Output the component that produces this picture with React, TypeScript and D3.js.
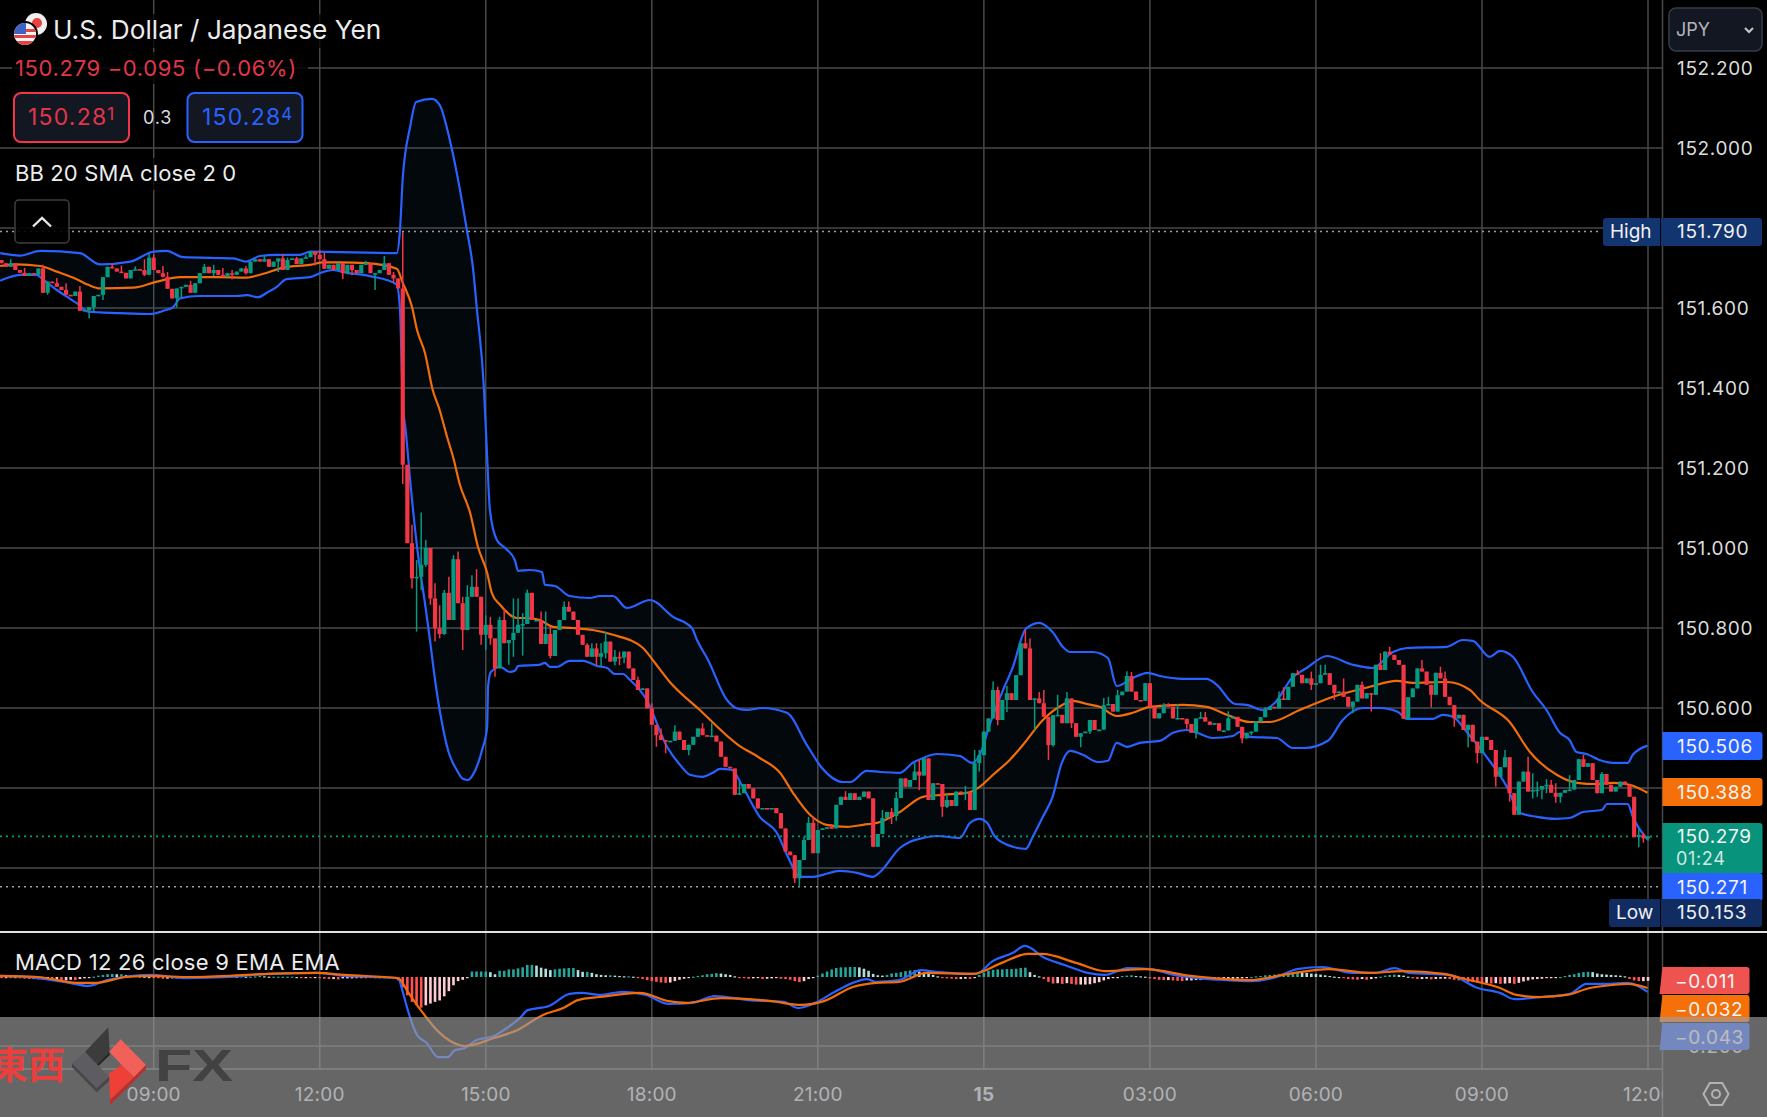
import React from "react";
import * as d3 from "d3";

const W = 1767, H = 1117;
const FONT = "Inter, Roboto, sans-serif";

// ---------- data ----------
const firstBar = -33; // bar index 0 = 09:00, bars are 5 minutes
const firstOpen = 151.72;
const closesBeforeSpike = [
  151.712,151.703,151.712,151.695,151.688,151.680,151.687,151.683,151.699,151.638,151.666,151.662,151.653,151.645,151.633,151.630,
  151.641,151.593,151.595,151.602,151.630,151.633,151.677,151.703,151.699,151.691,151.688,151.674,151.695,151.697,151.695,151.683,
  151.726,151.695,151.687,151.678,151.648,151.624,151.649,151.653,151.658,151.638,151.662,151.687,151.703,151.687,151.695,151.683,
  151.678,151.687,151.683,151.691,151.699,151.687,151.716,151.722,151.716,151.722,151.703,151.716,151.724,151.695,151.720,151.724,
  151.710,151.724,151.727,151.741,151.733,151.722,151.698,151.708,151.695,151.712,151.687,151.708,151.695,151.687,151.708,151.712,
  151.687,151.687,151.695,151.712,151.683,151.674,151.649,
];
const closesSpikeAndSlide = [
  151.208,151.012,150.924,150.928,150.958,151.000,150.874,150.799,150.785,150.888,150.820,150.972,150.862,150.795,150.878,150.903,
  150.878,150.783,150.808,150.774,150.699,150.820,150.762,150.770,150.788,150.808,150.810,150.888,150.820,150.820,150.760,150.785,
  150.730,150.795,150.820,150.853,150.841,150.820,150.783,150.758,150.728,150.749,150.728,150.737,150.766,150.716,150.728,150.726,
  150.741,150.699,150.670,150.645,150.649,150.599,150.558,150.532,150.520,150.516,150.518,150.541,150.520,150.495,150.508,150.528,
  150.549,150.532,150.530,150.531,150.516,150.478,150.453,150.449,150.383,150.387,150.410,150.399,150.374,150.349,150.350,150.349,
  150.350,150.337,150.299,150.241,150.232,150.174,150.220,150.270,150.313,150.237,150.295,150.299,150.302,150.299,150.358,150.378,
  150.370,150.387,150.370,150.378,150.391,150.374,150.253,150.285,
];
const closesRebound = [
  150.325,150.340,150.330,150.375,150.424,150.403,150.420,150.441,150.431,150.474,150.370,150.412,150.410,150.353,150.370,150.355,
  150.391,150.388,150.389,150.345,150.462,150.482,150.541,150.574,150.645,150.570,150.620,150.637,150.620,150.682,150.762,150.749,
  150.620,150.624,150.612,150.578,150.507,150.582,150.583,150.562,150.624,150.562,150.528,150.537,150.541,150.570,150.545,150.546,
  150.607,150.610,150.591,150.632,150.641,150.680,150.641,150.620,150.618,150.662,150.603,150.574,150.587,150.607,150.603,150.574,
  150.575,150.573,150.560,150.538,150.574,150.577,150.566,150.558,150.562,150.543,150.544,150.574,150.578,150.553,150.524,150.538,
  150.541,150.566,150.577,150.595,150.603,150.599,150.624,
];
const closesAfternoon = [
  150.620,150.653,150.687,150.683,150.662,150.674,150.658,150.662,150.683,150.687,150.658,150.637,150.641,150.628,150.603,150.616,
  150.658,150.624,150.637,150.633,150.708,150.695,150.741,150.733,150.720,150.708,150.573,150.627,150.649,150.699,150.691,150.658,
  150.633,150.688,150.674,150.628,150.607,150.574,150.583,150.545,150.558,150.516,150.487,150.528,150.520,150.495,150.428,150.452,
  150.477,150.387,150.333,150.416,150.441,150.391,150.395,150.396,150.405,150.408,150.388,150.378,150.388,150.395,150.396,150.420,
  150.472,150.453,150.462,150.420,150.387,150.435,150.408,150.391,150.403,150.416,150.408,150.378,150.277,150.283,150.274,150.279,
];
const closes = [...closesBeforeSpike, ...closesSpikeAndSlide, ...closesRebound, ...closesAfternoon];

// [bar, high, low]; 0 = the wick does not pass the body
const wicks: [number, number, number][] = [
  [-31,151.722,0],[-28,151.700,0],[-24,151.708,151.688],[-23,0,151.633],[-21,151.675,0],[-19,151.662,0],[-16,151.655,0],[-15,0,151.622],[-14,0,151.574],[-13,0,151.590],
  [-11,151.652,151.620],[-10,151.690,0],[-9,151.712,0],[-7,151.706,0],[-5,151.690,0],[-4,151.704,0],[-2,151.722,151.680],[-1,151.735,0],[0,151.734,0],[2,151.705,151.676],
  [3,151.690,0],[5,0,151.602],[6,0,151.625],[8,151.668,0],[11,151.710,0],[13,151.708,151.680],[15,151.700,0],[17,151.695,151.672],[19,151.700,0],[20,151.705,151.684],
  [22,151.722,0],[24,151.732,0],[27,151.718,151.690],[28,151.735,0],[29,151.726,0],[31,151.728,0],[33,151.733,0],[35,151.738,151.706],[36,151.745,0],[37,151.738,0],
  [41,0,151.672],[43,0,151.682],[46,151.718,0],[48,0,151.645],[50,151.730,0],[51,151.705,0],[52,151.690,151.664],
  [54,151.790,151.160],[56,151.058,150.899],[57,150.970,150.791],[58,151.089,150.895],[59,151.020,150.953],[60,0,150.858],[61,150.912,150.766],[62,150.857,150.774],[63,150.895,150.783],
  [64,150.928,0],[65,150.982,0],[66,150.991,0],[67,150.878,150.745],[68,150.907,0],[69,150.932,0],[70,150.947,0],[71,0,150.758],[72,150.832,150.745],[73,150.828,150.758],
  [74,0,150.678],[75,150.828,150.703],[76,150.847,0],[77,0,150.708],[78,150.874,150.728],[79,150.874,0],[80,150.837,150.731],[81,150.896,0],[84,150.841,0],[85,150.841,0],
  [86,150.803,150.724],[89,150.866,0],[90,150.866,0],[94,150.762,0],[95,150.762,150.728],[96,150.762,150.707],[97,150.762,150.703],[98,150.791,150.724],[100,150.745,150.707],
  [101,150.741,150.707],[102,0,150.712],[105,150.678,0],[108,150.612,0],[109,0,150.503],[110,150.549,0],[111,0,150.487],[113,150.557,0],[116,0,150.482],[119,150.562,0],
  [121,150.562,0],[127,150.416,0],[139,0,150.162],[140,0,150.153],[141,150.278,0],[142,150.328,0],[143,150.328,0],[147,150.310,0],[150,150.392,0],
  [158,150.345,150.285],[160,150.350,150.310],[161,150.390,150.318],[165,150.462,0],[166,150.470,150.395],[171,0,150.328],[172,150.385,150.350],[176,150.405,150.370],[178,150.495,0],[179,150.495,150.441],
  [182,150.666,0],[183,150.653,150.557],[185,150.655,150.590],[187,0,150.620],[189,150.795,0],[190,150.774,0],[191,0,150.545],[192,150.640,0],[193,150.645,0],[194,0,150.470],
  [195,0,150.503],[196,150.633,0],[198,150.640,0],[199,0,150.550],[201,0,150.502],[203,0,150.535],[206,150.625,0],[207,150.628,0],[209,150.645,0],[211,150.692,0],
  [212,150.690,0],[216,150.625,0],[219,150.612,0],[220,150.612,0],[222,150.610,0],[224,0,150.548],[226,0,150.524],[227,150.590,0],[228,150.590,0],[233,150.592,0],
  [236,0,150.512],[238,0,150.532],[241,150.602,0],[244,150.641,0],[245,150.652,0],[248,150.695,0],
  [251,150.691,150.645],[253,150.708,0],[254,150.708,0],[256,0,150.620],[258,150.674,0],[260,0,150.587],[262,150.666,0],[264,0,150.591],[266,150.737,0],[268,150.753,0],
  [272,0,150.570],[275,150.720,0],[277,0,150.602],[279,150.703,0],[280,150.691,0],[282,0,150.553],[285,0,150.502],[287,0,150.462],[291,0,150.403],[293,150.495,0],
  [294,0,150.366],[298,150.478,0],[299,150.437,150.374],[300,150.416,150.378],[301,0,150.372],[302,150.422,150.387],[303,150.420,0],[304,150.412,150.363],[305,0,150.363],[307,150.432,0],
  [310,150.483,0],[314,150.440,0],[322,150.299,150.252],[323,150.288,150.263],[324,150.280,150.268],
];

const bbUpper: [number, number][] = [
  [-33.3,151.737],[-29,151.731],[-24.6,151.743],[-16,151.737],[-11.6,151.709],[-5.1,151.716],[0,151.741],[2.8,151.743],[6.4,151.727],[17.3,151.724],[20,151.716],[23,151.730],[26.7,151.733],[31.7,151.733],[33.9,151.741],[52.7,151.737],
  [53.4,151.795],[54,151.925],[55.6,152.053],[56.9,152.115],[60.3,152.123],[62,152.108],[64.2,152.02],[66.8,151.87],[67.9,151.795],[69.2,151.703],[70.1,151.595],[71.6,151.40],[72.3,151.228],[72.9,151.095],[74.4,151.02],[76.2,151.0],[78.3,150.97],[79,150.943],[81.6,150.945],[84.2,150.94],[84.8,150.908],[87,150.905],[90.2,150.88],[94.6,150.875],[96.7,150.88],[99.6,150.88],[102.6,150.85],[107.6,150.87],[112.6,150.828],[116.7,150.80],[117.8,150.77],[120.2,150.72],[124.3,150.62],[126.7,150.598],[128.6,150.595],[131.9,150.60],[137.3,150.588],[141.6,150.508],[144.9,150.45],[149.4,150.415],[151,150.415],[154.6,150.443],[157.5,150.44],
  [161.8,150.438],[164.6,150.463],[166.8,150.475],[169.8,150.485],[174.8,150.48],[177.4,150.463],[179.8,150.503],[180.9,150.545],[183.9,150.638],[186.3,150.703],[188.9,150.795],[190.4,150.808],[191.9,150.813],[194.9,150.79],[197.1,150.753],[198.7,150.74],[203.6,150.74],[206.9,150.725],[208.8,150.655],[212.3,150.675],[215.5,150.688],[218.2,150.68],[223.1,150.673],[228.3,150.673],[230.5,150.658],[234.4,150.61],[237,150.608],[240.3,150.595],[243.1,150.613],[246.8,150.675],[250,150.70],[254.4,150.73],[260,150.708],[264.3,150.70],[268.7,150.74],[271.7,150.75],[280.4,150.753],[283.8,150.77],[286,150.768],[289.7,150.728],[291.9,150.743],[294.7,150.728],[299,150.64],[302,150.595],[304.9,150.538],[307,150.52],[308.5,150.49],[310.7,150.485],[313.5,150.47],[316.4,150.463],[319.6,150.463],[320.7,150.483],[323.9,150.506],
];
const bbLower: [number, number][] = [
  [-33.3,151.668],[-31,151.678],[-29,151.683],[-25.4,151.683],[-23.9,151.67],[-21,151.645],[-16.7,151.612],[-14.2,151.591],[-11.6,151.589],[-7.3,151.587],[-0.8,151.585],[2.1,151.593],[4.3,151.603],[5.7,151.624],[10,151.63],[18,151.63],[20.2,151.632],[22.7,151.627],[24.5,151.638],[26.7,151.653],[28.8,151.672],[33.9,151.677],[36,151.687],[38.9,151.695],[41.8,151.688],[45.4,151.683],[47.6,151.678],[50.5,151.67],[52.7,151.658],
  [53.4,151.595],[54,151.37],[54.7,151.288],[55.6,151.17],[57.1,151.003],[58.8,150.863],[59.9,150.77],[61,150.67],[62.5,150.563],[63.8,150.495],[65.7,150.445],[67,150.423],[68.1,150.42],[69.2,150.433],[71.2,150.495],[72.3,150.553],[72.5,150.653],[73.1,150.69],[75.1,150.703],[77.2,150.69],[78.3,150.693],[79,150.705],[83.7,150.708],[84.8,150.713],[85.9,150.703],[87.4,150.703],[90.2,150.718],[93.1,150.718],[96.1,150.705],[98.3,150.70],[100,150.685],[101.7,150.685],[103.3,150.67],[106.9,150.62],[111.3,150.503],[114.1,150.458],[116.3,150.433],[118.9,150.428],[121.2,150.438],[122.8,150.448],[125.4,150.445],[127.7,150.403],[131.4,150.328],[135.1,150.288],[137.5,150.228],[140.1,150.178],[141.6,150.178],[142.9,150.178],[145.1,150.183],[148.8,150.193],[152.5,150.188],[155.9,150.178],[157.5,150.19],
  [161.8,150.25],[163.9,150.265],[166.8,150.275],[169.8,150.28],[174.8,150.275],[177,150.313],[179.1,150.323],[180.7,150.313],[182.4,150.278],[186.3,150.253],[189.1,150.248],[190.6,150.278],[192.8,150.328],[194.9,150.378],[196.9,150.463],[198.7,150.493],[201.5,150.483],[204.7,150.465],[206.9,150.468],[208.8,150.513],[211,150.503],[213.8,150.513],[218.2,150.518],[221,150.538],[224,150.545],[226.2,150.538],[229.6,150.525],[234,150.53],[235.5,150.54],[237.7,150.528],[243.5,150.525],[247,150.50],[249.6,150.50],[254.6,150.518],[257.8,150.57],[262.2,150.60],[265.8,150.60],[269.8,150.59],[271.7,150.573],[277.4,150.573],[279.5,150.583],[281.7,150.578],[284.7,150.54],[289,150.478],[293.4,150.403],[296.2,150.338],[299.9,150.328],[304.2,150.323],[307,150.325],[309.9,150.34],[314,150.345],[315.1,150.36],[319.6,150.36],[320.7,150.328],[323.9,150.271],
];
const bbMiddle: [number, number][] = [
  [-33.3,151.705],[-29.7,151.709],[-24.6,151.705],[-21,151.691],[-16.7,151.672],[-14.2,151.658],[-11.6,151.649],[-4.4,151.651],[0.7,151.666],[5.7,151.677],[13.7,151.677],[20.2,151.676],[23,151.683],[28.1,151.701],[33.9,151.708],[36.8,151.714],[40.4,151.714],[46.2,151.712],[52.7,151.698],
  [54,151.663],[56,151.603],[57.1,151.545],[58.8,151.488],[60.5,151.395],[62,151.345],[63.6,151.278],[64.9,151.228],[66.4,151.158],[68.6,151.088],[70.3,151.003],[72.3,150.938],[73.3,150.888],[75.1,150.858],[78.8,150.825],[80.9,150.825],[83.7,150.82],[86.6,150.803],[90.9,150.80],[95.2,150.795],[99.6,150.783],[106.1,150.75],[108.2,150.72],[111.9,150.665],[118.4,150.595],[126.7,150.508],[131.4,150.475],[135.8,150.438],[138.6,150.388],[142.3,150.333],[145.9,150.308],[150.3,150.303],[153.8,150.308],[157.5,150.315],
  [161.8,150.34],[166.8,150.378],[171.1,150.383],[176.3,150.388],[179.1,150.403],[182,150.433],[185.6,150.47],[188.5,150.508],[192.8,150.57],[197.1,150.608],[199.3,150.618],[202.3,150.61],[205.1,150.603],[208.8,150.58],[212.3,150.588],[216,150.603],[223.1,150.608],[228.3,150.603],[232.7,150.583],[237.7,150.565],[242,150.565],[248.5,150.595],[255.7,150.628],[263.7,150.653],[269.5,150.668],[273,150.663],[280.4,150.665],[285.4,150.645],[287.5,150.62],[294,150.565],[298.4,150.49],[304.2,150.433],[308.5,150.413],[312.9,150.41],[316.4,150.413],[320,150.408],[323.9,150.388],
];

const macdLine: [number, number][] = [
  [-33.3,0.003],[-25.1,-0.003],[-18.3,-0.017],[-14.2,-0.026],[-10.1,-0.009],[-0.2,0.006],[6.6,-0.003],[16.5,0],[24.8,0.009],[35.6,0.012],[41.3,0.003],[53,-0.003],[53.9,-0.038],[55.1,-0.096],[57.1,-0.168],[59.2,-0.191],[61.6,-0.232],[63.8,-0.232],[65.3,-0.212],[67.5,-0.206],[69.9,-0.183],[73.8,-0.171],[75.3,-0.159],[79.4,-0.119],[81.1,-0.096],[85.7,-0.084],[90.2,-0.049],[92.8,-0.046],[96.7,-0.052],[101.7,-0.043],[106.7,-0.052],[111.7,-0.078],[116.7,-0.075],[121.7,-0.055],[129,-0.067],[136.6,-0.072],[139.7,-0.09],[143.4,-0.075],[147.7,-0.043],[151.6,-0.017],[154.6,-0.006],[156.6,-0.014],[161.6,-0.009],[166.4,0.02],[170.2,0.014],[178.3,0.009],[181.9,0.046],[186.3,0.07],[188.9,0.09],[193.2,0.055],[197.5,0.035],[202.5,0.012],[206.2,0.006],[211.2,0.026],[216.2,0.023],[221.2,0.006],[226.2,-0.003],[232.4,-0.009],[237.4,-0.012],[243.5,0],[247.9,0.023],[253.5,0.029],[259.8,0.012],[264.8,0.012],[269.1,0.026],[272.1,0.012],[281,0.006],[287.1,-0.032],[291.9,-0.046],[295,-0.064],[301.2,-0.058],[307,-0.049],[310.7,-0.02],[315,-0.02],[319.6,-0.017],[323.9,-0.043],
];
const signalLine: [number, number][] = [
  [-33.3,0.003],[-25.1,0],[-16.6,-0.017],[-12.5,-0.017],[-6,0],[-0.2,0.003],[8.1,0],[24.8,0.009],[35.6,0.012],[41.3,0.006],[53,-0.003],[55.1,-0.043],[57.9,-0.096],[62,-0.162],[66.2,-0.197],[67.5,-0.2],[73.8,-0.177],[78.8,-0.154],[84.4,-0.11],[88.8,-0.09],[92,-0.067],[96.7,-0.058],[105.4,-0.046],[111.7,-0.07],[115.4,-0.075],[123,-0.061],[134,-0.07],[140.3,-0.081],[145.3,-0.07],[151.6,-0.029],[156.6,-0.017],[161.6,-0.014],[167.6,0.012],[177.6,0.009],[183.9,0.041],[189.5,0.067],[192.6,0.067],[200,0.041],[206.2,0.017],[214.9,0.023],[224.9,0.003],[237.4,-0.009],[246.1,0.009],[254.8,0.023],[263.5,0.012],[271,0.017],[279.7,0.009],[283.4,-0.003],[291.9,-0.032],[295.5,-0.052],[300.5,-0.058],[306.4,-0.052],[311.4,-0.032],[316.4,-0.023],[319.6,-0.02],[323.9,-0.032],
];
const histBeforeSpike = [
  -.002,-.002,-.003,-.003,-.004,-.005,-.006,-.006,-.007,-.008,-.008,-.009,-.009,-.010,-.010,-.008,-.009,-.006,-.004,-.002,
  .001,.004,.006,.008,.009,.008,.008,.006,.005,.004,.002,.001,.000,-.002,-.003,-.005,-.005,-.004,-.004,-.003,-.002,-.002,
  -.001,-.001,.001,.001,.001,.002,.002,.002,.002,.001,.002,.001,.001,.002,.003,.002,.001,.001,.001,.001,.001,.001,.000,-.001,-.001,-.002,-.002,-.003,
  -.005,-.006,-.006,-.007,-.004,-.004,-.004,-.003,-.003,-.002,-.003,-.002,-.002,-.002,-.001,-.002,
];
const histSpike = [
  -.010,-.030,-.053,-.072,-.082,-.089,-.082,-.077,-.072,-.068,-.056,-.041,-.024,-.012,-.008,-.003,
  .016,.016,.016,.016,.014,.008,.018,.018,.022,.022,.025,.028,.035,.035,.033,.027,.024,.020,.022,.024,.025,.026,.026,.020,.015,.015,.012,.008,
];
const histSlide = [
  .006,.005,.005,.004,.003,.002,.002,.001,-.003,-.006,-.009,-.012,-.014,-.016,-.017,-.016,-.012,-.008,-.005,-.003,.001,.003,.005,
  .008,.009,.011,.010,.008,.006,.002,-.002,-.003,-.005,-.004,-.003,-.006,-.005,-.004,-.003,-.005,-.006,-.008,-.012,-.015,-.012,-.006,-.003,
];
const histRebound = [
  .004,.010,.016,.022,.026,.028,.028,.029,.029,.028,.024,.018,.009,.005,.004,.006,.010,.012,.014,.017,.019,.020,.016,.012,.009,.006,
  .002,-.003,-.004,-.005,-.006,-.006,-.005,-.006,-.003,.006,.012,.018,.021,.022,.022,.023,.023,.024,.026,.027,.014,.006,.002,
  -.006,-.014,-.019,-.018,-.020,-.018,-.020,-.022,-.022,-.022,-.021,-.018,-.015,-.010,-.006,-.003,-.001,.003,.004,.005,.003,.002,.001,
];
const histAfternoon = [
  -.004,-.006,-.008,-.009,-.009,-.010,-.011,-.012,-.010,-.010,-.009,-.009,-.008,-.007,-.007,-.008,-.007,-.007,-.006,-.005,-.004,-.002,
  .000,.002,.003,.005,.006,.007,.008,.010,.012,.014,.015,.014,.012,.010,.009,.007,.005,.003,.001,.000,-.002,
  -.006,-.007,-.008,-.006,-.008,-.006,-.004,.001,.004,.006,.007,.006,.004,.001,-.004,-.006,-.006,-.005,-.007,-.006,-.005,-.005,-.006,
  -.008,-.010,-.012,-.014,-.015,-.016,-.018,-.017,-.019,-.018,-.020,-.019,-.018,-.020,-.017,-.013,-.010,-.007,-.006,-.005,-.003,-.002,
  -.001,.000,.003,.006,.008,.012,.014,.015,.014,.010,.008,.007,.006,.005,.004,.002,-.006,-.010,-.012,-.012,-.011,
];
const histogram = [...histBeforeSpike, ...histSpike, ...histSlide, ...histRebound, ...histAfternoon];

const priceTicks = ["152.200","152.000","151.600","151.400","151.200","151.000","150.800","150.600"];
const priceGrid = [152.2,152.0,151.8,151.6,151.4,151.2,151.0,150.8,150.6,150.4,150.2];
const timeTicks: [number, string, boolean][] = [
  [0,"09:00",false],[36,"12:00",false],[72,"15:00",false],[108,"18:00",false],[144,"21:00",false],
  [180,"15",true],[216,"03:00",false],[252,"06:00",false],[288,"09:00",false],[324,"12:00",false],
];
const priceHigh = 151.79, priceLow = 150.153, priceLast = 150.279;
const macdGrid = -0.2;

// ---------- colours ----------
const UP = "#089981", DOWN = "#f23645", BLUE = "#2962ff", ORANGE = "#f36c0a";
const GRID = "#484848";
const AXIS_SPACING = 0.65;

// ---------- scales ----------
const xScale = d3.scaleLinear().domain([0, 324]).range([153.7, 1648]);
const yPrice = d3.scaleLinear().domain([152.2, 150.2]).range([68, 868]);
const yMacd = d3.scaleLinear().domain([0, -0.2]).range([977, 1046]);
const axisX = 1662.5;

const priceLine = d3.line<[number, number]>().x(d => xScale(d[0])).y(d => yPrice(d[1])).curve(d3.curveMonotoneX);
const macdPath = d3.line<[number, number]>().x(d => xScale(d[0])).y(d => yMacd(d[1])).curve(d3.curveMonotoneX);
const bandEdge = d3.line<[number, number]>().x(d => xScale(d[0])).y(d => yPrice(d[1]));

type Tag = { y: number; h?: number; color: string; text: string; w?: number };

function PriceTag({ y, h = 28, color, text, w = 100 }: Tag) {
  return (
    <g>
      <path d={`M${axisX} ${y}h${w - 3}a3 3 0 0 1 3 3v${h - 6}a3 3 0 0 1 -3 3h-${w - 3}z`} fill={color} />
      <text x={1677} y={y + h / 2 + 7} fontSize={19} letterSpacing={AXIS_SPACING} fill="#f4f4f4">{text}</text>
    </g>
  );
}

export default function App() {
  const candles = closes.map((close, k) => {
    const i = firstBar + k;
    const open = k === 0 ? firstOpen : closes[k - 1];
    const w = wicks.find(v => v[0] === i);
    const high = Math.max(open, close, w ? w[1] : 0);
    const low = Math.min(open, close, w && w[2] ? w[2] : Infinity);
    return { i, open, close, high, low };
  });
  const bandPath = bandEdge(bbUpper) + "L" + bandEdge([...bbLower].reverse())!.slice(1) + "Z";
  return (
    <svg width={W} height={H} viewBox={`0 0 ${W} ${H}`} fontFamily={FONT}
      style={{ position: "fixed", left: 0, top: 0, display: "block", background: "#000" }}>
      <defs>
        <clipPath id="mainPane"><rect x={0} y={0} width={axisX} height={931} /></clipPath>
        <clipPath id="macdPane"><rect x={0} y={933} width={axisX} height={136} /></clipPath>
        <clipPath id="timePane"><rect x={0} y={1070} width={axisX} height={47} /></clipPath>
        <clipPath id="usFlag"><circle cx={25} cy={34} r={11} /></clipPath>
      </defs>

      {/* grid */}
      {timeTicks.map(t => (
        <line key={t[0]} x1={xScale(t[0])} x2={xScale(t[0])} y1={0} y2={1069} stroke={GRID} strokeWidth={1.5} />
      ))}
      {priceGrid.map(p => (
        <line key={p} x1={0} x2={axisX} y1={yPrice(p)} y2={yPrice(p)} stroke={GRID} strokeWidth={1.5} />
      ))}
      <line x1={0} x2={axisX} y1={yMacd(macdGrid)} y2={yMacd(macdGrid)} stroke={GRID} strokeWidth={1.5} />

      {/* main pane */}
      <g clipPath="url(#mainPane)">
        <path d={bandPath} fill="#2196f3" fillOpacity={0.05} />
        <path d={priceLine(bbUpper)!} fill="none" stroke={BLUE} strokeWidth={2.2} />
        <path d={priceLine(bbLower)!} fill="none" stroke={BLUE} strokeWidth={2.2} />
        <path d={priceLine(bbMiddle)!} fill="none" stroke={ORANGE} strokeWidth={2.2} />
        <line x1={0} x2={1602} y1={yPrice(priceHigh) - 0.5} y2={yPrice(priceHigh) - 0.5} stroke="#a0a0a0" strokeWidth={1.6} strokeDasharray="2 4" />
        <line x1={0} x2={axisX} y1={yPrice(priceLow)} y2={yPrice(priceLow)} stroke="#a0a0a0" strokeWidth={1.6} strokeDasharray="2 4" />
        <line x1={0} x2={axisX} y1={yPrice(priceLast)} y2={yPrice(priceLast)} stroke={UP} strokeWidth={1.6} strokeDasharray="2 4" />
        {candles.map(c => {
          const color = c.close >= c.open ? UP : DOWN;
          const x = xScale(c.i);
          const top = yPrice(Math.max(c.open, c.close));
          const bottom = yPrice(Math.min(c.open, c.close));
          return (
            <g key={c.i}>
              <line x1={x} x2={x} y1={yPrice(c.high)} y2={yPrice(c.low)} stroke={color} strokeWidth={1.5} />
              <rect x={x - 2.1} width={4.2} y={top} height={Math.max(bottom - top, 1.6)} fill={color} />
            </g>
          );
        })}
      </g>

      {/* MACD pane */}
      <g clipPath="url(#macdPane)">
        {histogram.map((v, k) => {
          const prev = k ? histogram[k - 1] : 0;
          const color = v >= 0 ? (v >= prev ? "#26a69a" : "#b2dfdb") : (v < prev ? "#ff5252" : "#ffcdd2");
          const y0 = yMacd(0), y1 = yMacd(v);
          return <rect key={k} x={xScale(firstBar + k) - 1.3} width={2.6} y={Math.min(y0, y1)} height={Math.max(Math.abs(y1 - y0), 1.2)} fill={color} />;
        })}
        <path d={macdPath(macdLine)!} fill="none" stroke={BLUE} strokeWidth={2.2} />
        <path d={macdPath(signalLine)!} fill="none" stroke={ORANGE} strokeWidth={2.2} />
      </g>

      {/* pane borders and axes */}
      <line x1={axisX} x2={axisX} y1={0} y2={H} stroke={GRID} strokeWidth={1.5} />
      <line x1={0} x2={W} y1={932} y2={932} stroke="#e2e2e2" strokeWidth={2} />
      <line x1={0} x2={axisX} y1={1069} y2={1069} stroke="#5a5a5a" strokeWidth={1.5} />

      {/* price axis */}
      {priceTicks.map(t => (
        <text key={t} x={1677} y={yPrice(+t) + 7} fontSize={19} letterSpacing={AXIS_SPACING} fill="#dcdcdc">{t}</text>
      ))}
      <text x={1675} y={yMacd(macdGrid) + 7} fontSize={19} letterSpacing={AXIS_SPACING} fill="#dcdcdc">{"\u22120.200"}</text>

      {/* price tags */}
      <PriceTag y={732} color={BLUE} text="150.506" />
      <PriceTag y={778} color="#f57008" text="150.388" />
      <g>
        <PriceTag y={873} color={BLUE} text="150.271" />
        <path d={`M${axisX} 823h97a3 3 0 0 1 3 3v47h-100z`} fill="#08937c" />
        <text x={1677} y={843} fontSize={19} letterSpacing={AXIS_SPACING} fill="#f4f4f4">150.279</text>
        <text x={1676} y={865} fontSize={18} letterSpacing={AXIS_SPACING} fill="#cfe9e3">01:24</text>
      </g>
      <rect x={1603} y={218} width={159} height={28} rx={3} fill="#12346f" />
      <line x1={1660.5} x2={1660.5} y1={218} y2={246} stroke="#000" strokeWidth={1} />
      <text x={1610} y={238} fontSize={19} fill="#f0f0f0">High</text>
      <text x={1677} y={238} fontSize={19} letterSpacing={AXIS_SPACING} fill="#f0f0f0">151.790</text>
      <rect x={1609} y={899} width={153} height={28} rx={3} fill="#102c60" />
      <line x1={1660.5} x2={1660.5} y1={899} y2={927} stroke="#000" strokeWidth={1} />
      <text x={1616} y={919} fontSize={19} fill="#f0f0f0">Low</text>
      <text x={1677} y={919} fontSize={19} letterSpacing={AXIS_SPACING} fill="#f0f0f0">150.153</text>

      {/* MACD tags */}
      {[
        { y: 967, c: "#ef5350", t: "\u22120.011" },
        { y: 995, c: "#f57008", t: "\u22120.032" },
        { y: 1023, c: BLUE, t: "\u22120.043" },
      ].map(m => (
        <g key={m.t}>
          <path d={`M${axisX} ${m.y}h84a3 3 0 0 1 3 3v21a3 3 0 0 1 -3 3h-87z`} fill={m.c} />
          <text x={1675} y={m.y + 21} fontSize={19} letterSpacing={AXIS_SPACING} fill="#f4f4f4">{m.t}</text>
        </g>
      ))}

      {/* time axis */}
      <g clipPath="url(#timePane)">
        {timeTicks.map(t => (
          <text key={t[0]} x={xScale(t[0])} y={1101} textAnchor="middle" fontSize={19} letterSpacing={0.2} fontWeight={t[2] ? 700 : 400} fill="#d8dae0">{t[1]}</text>
        ))}
      </g>
      <g transform="translate(1716 1094)" fill="none" stroke="#d8dae0" strokeWidth={2}>
        <path d="M-12.5 0L-6.2 -11H6.2L12.5 0L6.2 11H-6.2Z" />
        <circle r={4} />
      </g>

      {/* grey banner */}
      <rect x={0} y={1017} width={W} height={100} fill="rgb(157,157,157)" fillOpacity={0.65} />

      {/* logo */}
      <text x={-9} y={1079} fontSize={37} fontWeight={700} fill="#ea3f3d" fontFamily="'Noto Sans CJK TC', sans-serif">東西</text>
      <polygon points="85,1052 108.3,1027.3 109.7,1052 96.7,1065" fill="#3c3c3c" />
      <polygon points="96.7,1065 109.7,1052 109.7,1055 98.3,1066" fill="#222" />
      <polygon points="72,1063.3 85,1052 109.3,1076.7 96.7,1088.3" fill="#5d5d61" />
      <polygon points="72,1063.3 96.7,1088.3 96.7,1092.3 72,1067.3" fill="#474749" />
      <polygon points="96.7,1088.3 109.3,1076.7 109.3,1080.7 96.7,1092.3" fill="#464648" />
      <polygon points="109.3,1051.7 120.7,1039.3 146,1065 134,1077.3 121.7,1065" fill="#f2605a" />
      <polygon points="109.3,1073.3 121.7,1065 134,1077.3 110,1100" fill="#ef4038" />
      <polygon points="110,1100 134,1077.3 146,1065 146,1069.3 110,1105" fill="#b9302b" />
      <text x={155} y={1081} fontSize={45} fontWeight={700} fill="#424242" fontFamily="'Liberation Sans', Arial, sans-serif" textLength={78} lengthAdjust="spacingAndGlyphs">FX</text>

      {/* legend */}
      <rect x={14} y={14} width={372} height={34} fill="#000" fillOpacity={0.75} />
      <rect x={12} y={52} width={296} height={32} fill="#000" fillOpacity={0.8} />
      <rect x={12} y={158} width={228} height={32} fill="#000" fillOpacity={0.7} />
      <circle cx={36} cy={24} r={11} fill="#f0f0f0" />
      <circle cx={37} cy={23} r={5} fill="#e8433f" />
      <circle cx={25} cy={34} r={13} fill="#000" />
      <g clipPath="url(#usFlag)">
        <rect x={14} y={23} width={22} height={22} fill="#f4f4f4" />
        <rect x={14} y={29} width={22} height={3} fill="#e2453f" />
        <rect x={14} y={35} width={22} height={3} fill="#e2453f" />
        <rect x={14} y={41} width={22} height={4} fill="#e2453f" />
        <rect x={14} y={23} width={12} height={11} fill="#3e62c6" />
      </g>
      <text x={53} y={39} fontSize={26.2} fill="#ececec">U.S. Dollar / Japanese Yen</text>
      <text x={15} y={76} fontSize={22} letterSpacing={0.65} fill="#e0364a">{"150.279 \u22120.095 (\u22120.06%)"}</text>

      <rect x={14} y={93} width={115} height={49} rx={7} fill="#131722" stroke={DOWN} strokeWidth={2} />
      <text x={28} y={125} fontSize={23} letterSpacing={1.2} fill="#e0364a">150.28<tspan fontSize={17} dy={-5}>1</tspan></text>
      <text x={143} y={124} fontSize={18} letterSpacing={0.8} fill="#d8dae0">0.3</text>
      <rect x={187.5} y={93} width={115} height={49} rx={7} fill="#131722" stroke={BLUE} strokeWidth={2} />
      <text x={202} y={125} fontSize={23} letterSpacing={1.2} fill={BLUE}>150.28<tspan fontSize={17} dy={-5}>4</tspan></text>

      <text x={15} y={181} fontSize={22} letterSpacing={0.12} fill="#ececec">BB 20 SMA close 2 0</text>
      <rect x={15} y={200} width={54} height={43} rx={4} fill="#000" fillOpacity={0.9} stroke="#3f3f3f" strokeWidth={1.5} />
      <path d="M33 226.5L42 218L51 226.5" fill="none" stroke="#e6e6e6" strokeWidth={2.4} />

      <text x={15} y={970} fontSize={22} letterSpacing={0.25} fill="#ececec">MACD 12 26 close 9 EMA EMA</text>

      {/* currency selector */}
      <rect x={1669} y={8} width={93} height={43} rx={7} fill="#131722" stroke="#363c4a" strokeWidth={1.5} />
      <text x={1676} y={36} fontSize={18} fill="#b2b5be">JPY</text>
      <path d="M1745 28L1749 32L1753 28" fill="none" stroke="#c8c8c8" strokeWidth={2} />
    </svg>
  );
}
